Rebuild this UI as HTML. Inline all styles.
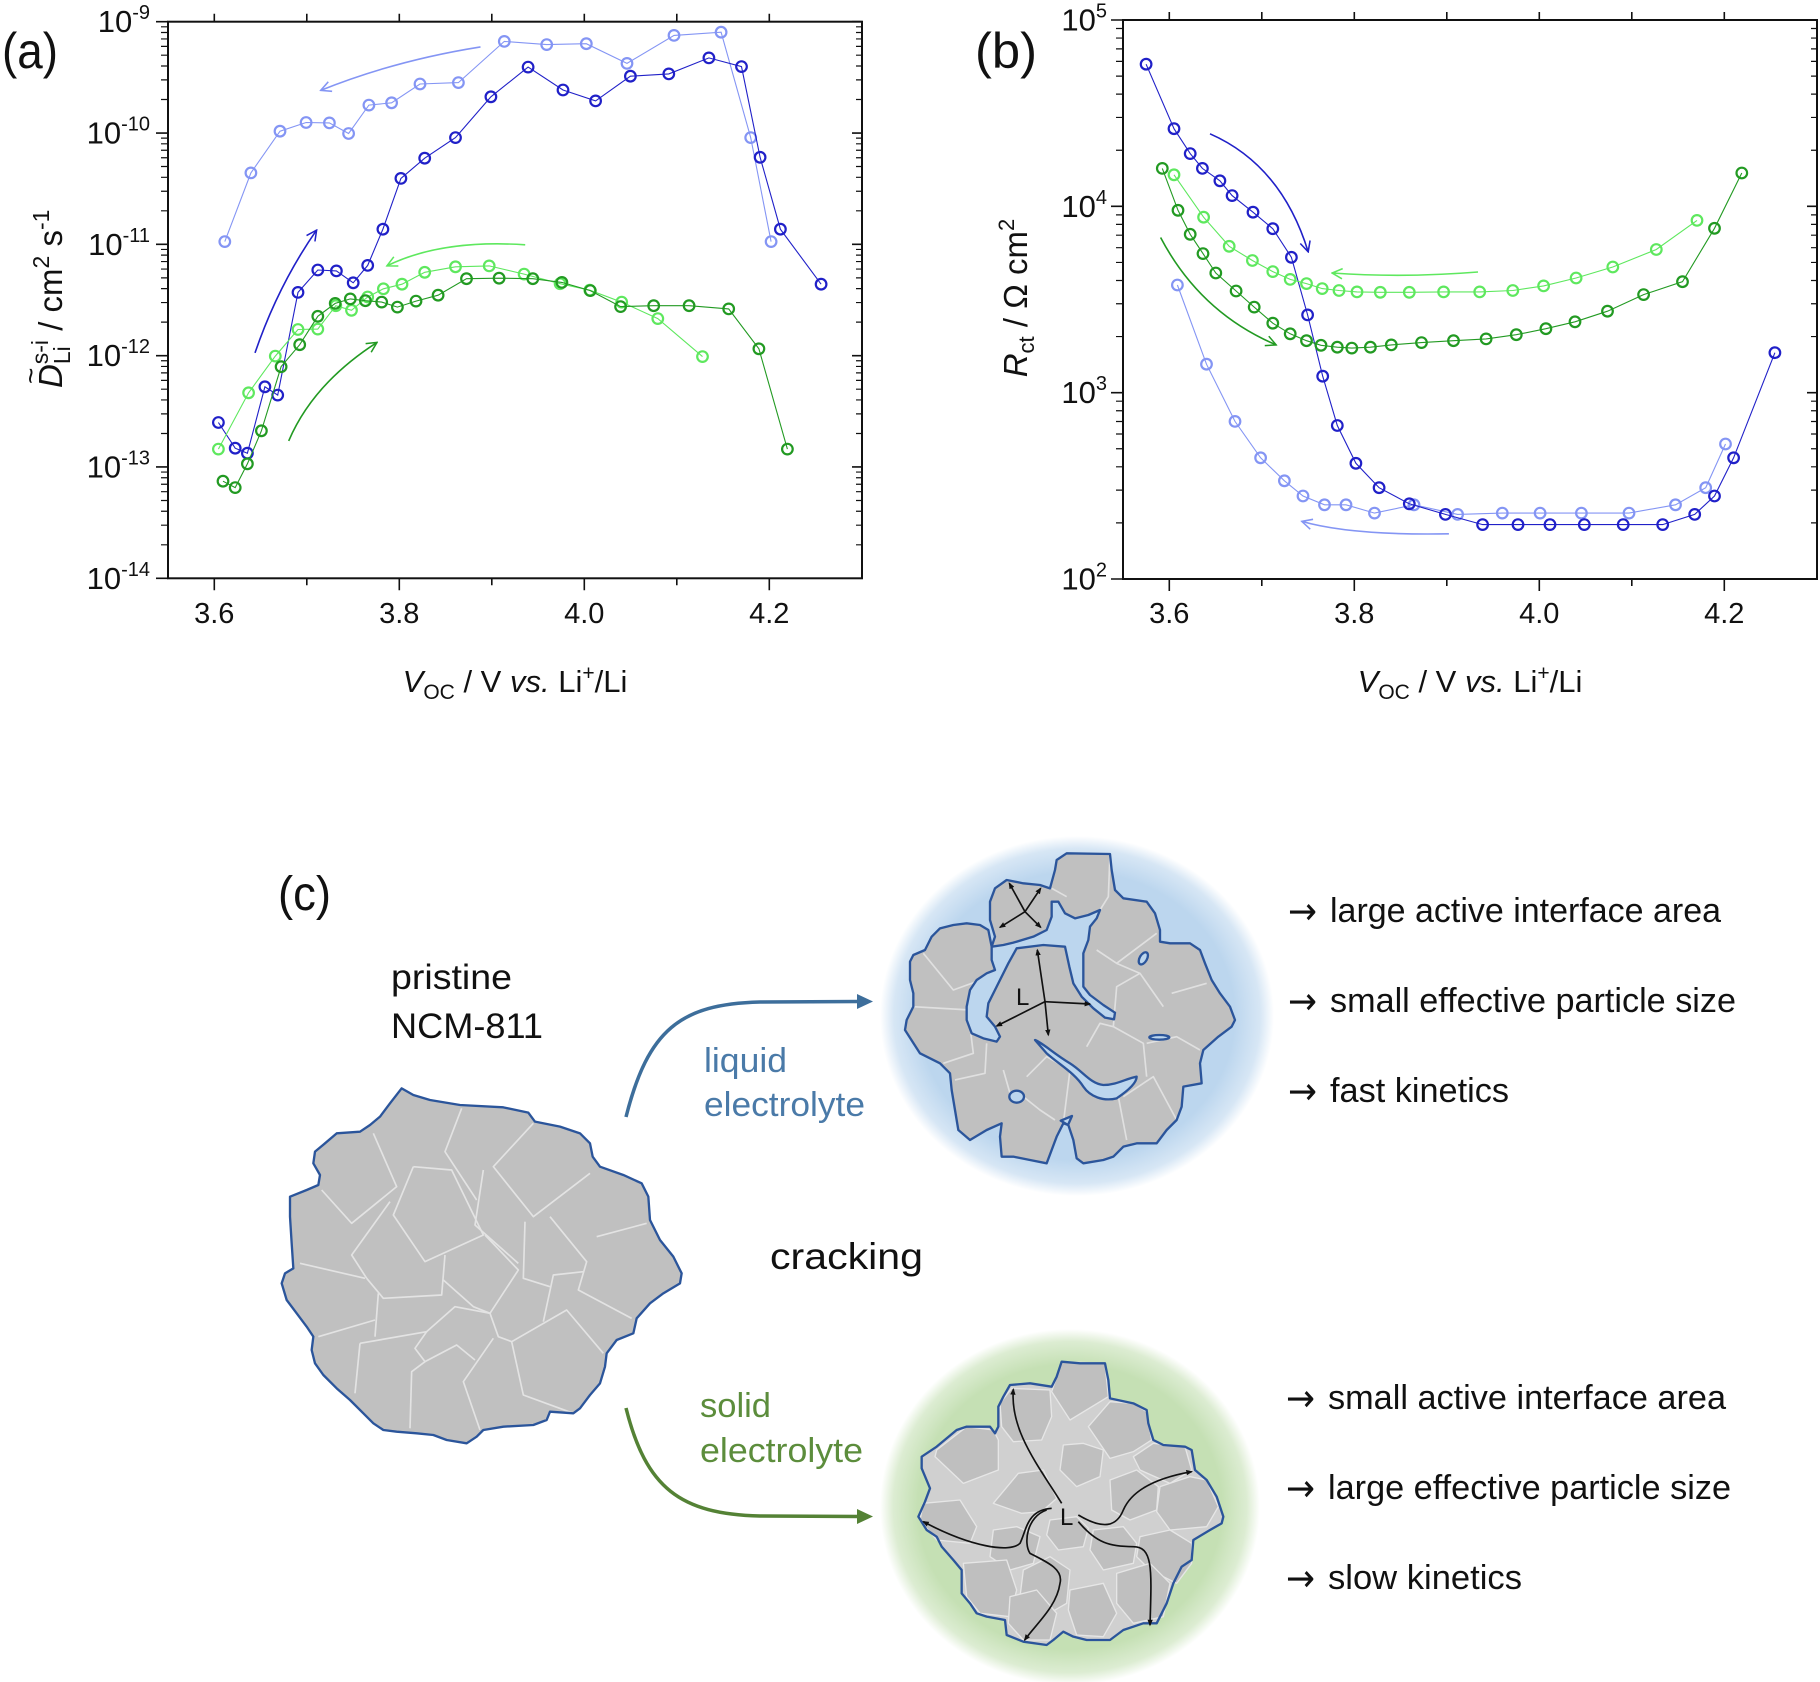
<!DOCTYPE html>
<html><head><meta charset="utf-8"><style>
html,body{margin:0;padding:0;background:#fff;}
svg{display:block;}
text{font-family:"Liberation Sans",Arial,sans-serif;}
</style></head><body>
<svg width="1820" height="1682" viewBox="0 0 1820 1682" xmlns="http://www.w3.org/2000/svg">
<defs>
<marker id="mdb" markerWidth="16" markerHeight="16" refX="8" refY="8" markerUnits="userSpaceOnUse"><circle cx="8" cy="8" r="5.3" fill="none" stroke="#2020c8" stroke-width="2.2"/></marker>
<marker id="mlb" markerWidth="16" markerHeight="16" refX="8" refY="8" markerUnits="userSpaceOnUse"><circle cx="8" cy="8" r="5.3" fill="none" stroke="#8495f4" stroke-width="2.2"/></marker>
<marker id="mlg" markerWidth="16" markerHeight="16" refX="8" refY="8" markerUnits="userSpaceOnUse"><circle cx="8" cy="8" r="5.3" fill="none" stroke="#5ee85e" stroke-width="2.2"/></marker>
<marker id="mdg" markerWidth="16" markerHeight="16" refX="8" refY="8" markerUnits="userSpaceOnUse"><circle cx="8" cy="8" r="5.3" fill="none" stroke="#229a22" stroke-width="2.2"/></marker>
<marker id="adb" viewBox="0 0 10 10" refX="9" refY="5" markerWidth="8" markerHeight="8" orient="auto"><path d="M1,1 L9,5 L1,9" fill="none" stroke="#2020c8" stroke-width="1.2"/></marker>
<marker id="alb" viewBox="0 0 10 10" refX="9" refY="5" markerWidth="8" markerHeight="8" orient="auto"><path d="M1,1 L9,5 L1,9" fill="none" stroke="#8495f4" stroke-width="1.2"/></marker>
<marker id="alg" viewBox="0 0 10 10" refX="9" refY="5" markerWidth="8" markerHeight="8" orient="auto"><path d="M1,1 L9,5 L1,9" fill="none" stroke="#5ee85e" stroke-width="1.2"/></marker>
<marker id="adg" viewBox="0 0 10 10" refX="9" refY="5" markerWidth="8" markerHeight="8" orient="auto"><path d="M1,1 L9,5 L1,9" fill="none" stroke="#229a22" stroke-width="1.2"/></marker>
<marker id="ablk" viewBox="0 0 10 10" refX="8" refY="5" markerWidth="4" markerHeight="4" orient="auto"><path d="M0,1 L10,5 L0,9 Z" fill="#111"/></marker>
<radialGradient id="gblue" cx="50%" cy="50%" r="50%"><stop offset="0.8" stop-color="#bcd6ee"/><stop offset="0.93" stop-color="#bcd6ee" stop-opacity="0.6"/><stop offset="1" stop-color="#bcd6ee" stop-opacity="0"/></radialGradient>
<radialGradient id="ggreen" cx="50%" cy="50%" r="50%"><stop offset="0.8" stop-color="#c5e0b4"/><stop offset="0.93" stop-color="#c5e0b4" stop-opacity="0.6"/><stop offset="1" stop-color="#c5e0b4" stop-opacity="0"/></radialGradient>
</defs>
<rect width="1820" height="1682" fill="#fff"/>

<!-- ================= PANEL (a) ================= -->
<text x="2" y="68" font-size="50" fill="#111" textLength="56" lengthAdjust="spacingAndGlyphs">(a)</text>
<g stroke="#111" fill="none">
<rect x="168" y="21.7" width="694" height="556.6" stroke-width="2"/>
<path stroke-width="1.6" d="M168,21.7h-12 M168,133.02h-12 M168,244.34h-12 M168,355.66h-12 M168,466.98h-12 M168,578.3h-12
M862,21.7h-10 M862,133.02h-10 M862,244.34h-10 M862,355.66h-10 M862,466.98h-10"/>
<path stroke-width="1.2" d="M168,99.51h-7M168,79.91h-7M168,66h-7M168,55.21h-7M168,46.4h-7M168,38.94h-7M168,32.49h-7M168,26.79h-7
M168,210.83h-7M168,191.23h-7M168,177.32h-7M168,166.53h-7M168,157.72h-7M168,150.26h-7M168,143.81h-7M168,138.11h-7
M168,322.15h-7M168,302.55h-7M168,288.64h-7M168,277.85h-7M168,269.04h-7M168,261.58h-7M168,255.13h-7M168,249.43h-7
M168,433.47h-7M168,413.87h-7M168,399.96h-7M168,389.17h-7M168,380.36h-7M168,372.9h-7M168,366.45h-7M168,360.75h-7
M168,544.79h-7M168,525.19h-7M168,511.28h-7M168,500.49h-7M168,491.68h-7M168,484.22h-7M168,477.77h-7M168,472.07h-7
M862,99.51h-6M862,79.91h-6M862,66h-6M862,55.21h-6M862,46.4h-6M862,38.94h-6M862,32.49h-6M862,26.79h-6
M862,210.83h-6M862,191.23h-6M862,177.32h-6M862,166.53h-6M862,157.72h-6M862,150.26h-6M862,143.81h-6M862,138.11h-6
M862,322.15h-6M862,302.55h-6M862,288.64h-6M862,277.85h-6M862,269.04h-6M862,261.58h-6M862,255.13h-6M862,249.43h-6
M862,433.47h-6M862,413.87h-6M862,399.96h-6M862,389.17h-6M862,380.36h-6M862,372.9h-6M862,366.45h-6M862,360.75h-6
M862,544.79h-6M862,525.19h-6M862,511.28h-6M862,500.49h-6M862,491.68h-6M862,484.22h-6M862,477.77h-6M862,472.07h-6"/>
<path stroke-width="1.6" d="M214.3,578.3v12M399.3,578.3v12M584.3,578.3v12M769.3,578.3v12
M306.8,578.3v7M491.8,578.3v7M676.8,578.3v7
M214.3,21.7v-8M306.8,21.7v-8M399.3,21.7v-8M491.8,21.7v-8M584.3,21.7v-8M676.8,21.7v-8M769.3,21.7v-8"/>
</g>
<g font-size="31" fill="#111" text-anchor="end">
<text x="150" y="32.2">10<tspan font-size="20" dy="-13">-9</tspan></text>
<text x="150" y="143.5">10<tspan font-size="20" dy="-13">-10</tspan></text>
<text x="150" y="254.8">10<tspan font-size="20" dy="-13">-11</tspan></text>
<text x="150" y="366.2">10<tspan font-size="20" dy="-13">-12</tspan></text>
<text x="150" y="477.5">10<tspan font-size="20" dy="-13">-13</tspan></text>
<text x="150" y="588.8">10<tspan font-size="20" dy="-13">-14</tspan></text>
</g>
<g font-size="29" fill="#111" text-anchor="middle">
<text x="214.3" y="623">3.6</text><text x="399.3" y="623">3.8</text><text x="584.3" y="623">4.0</text><text x="769.3" y="623">4.2</text>
</g>
<text x="515" y="692" font-size="31" fill="#111" text-anchor="middle"><tspan font-style="italic">V</tspan><tspan font-size="21" dy="7">OC</tspan><tspan dy="-7"> / V </tspan><tspan font-style="italic">vs.</tspan><tspan> Li</tspan><tspan font-size="21" dy="-12">+</tspan><tspan dy="12">/Li</tspan></text>
<g transform="translate(62,300) rotate(-90)" fill="#111">
<text x="-88" y="0" font-size="33"><tspan font-style="italic">D</tspan><tspan font-size="23" dy="8">Li</tspan><tspan font-size="23" dx="-18" dy="-22">s-i</tspan><tspan dy="14"> / cm</tspan><tspan font-size="23" dy="-13">2</tspan><tspan dy="13"> s</tspan><tspan font-size="23" dy="-13">-1</tspan></text>
<text x="-84" y="-22" font-size="28">~</text>
</g>
<!-- data (a) -->
<g fill="none" stroke-width="1.1">
<polyline stroke="#8495f4" marker-start="url(#mlb)" marker-mid="url(#mlb)" marker-end="url(#mlb)" points="771.1,241.6 750.7,137.6 721.1,32.2 674.0,35.4 627.0,63.4 586.3,43.7 546.7,44.6 504.3,41.4 458.4,82.6 420.0,84.0 391.6,102.8 368.9,105.1 348.6,133.5 329.4,122.9 306.1,122.5 280.0,131.2 250.9,172.9 224.8,241.6"/>
<polyline stroke="#2020c8" marker-start="url(#mdb)" marker-mid="url(#mdb)" marker-end="url(#mdb)" points="218.4,422.5 235.2,448.2 247.4,453.2 264.9,386.8 277.7,395.1 298.0,292.4 317.8,270.0 336.4,270.9 353.2,282.8 367.7,265.4 382.9,229.2 400.9,178.4 424.7,158.2 455.5,137.6 490.9,96.8 528.1,67.1 563.0,90.0 595.6,100.9 630.4,76.2 668.8,73.9 708.9,57.9 741.5,66.6 760.1,157.3 780.4,229.2 821.1,284.2"/>
<polyline stroke="#5ee85e" marker-start="url(#mlg)" marker-mid="url(#mlg)" marker-end="url(#mlg)" points="702.5,356.6 657.8,318.6 621.7,302.1 589.8,290.2 560.1,283.7 524.1,274.1 489.2,265.9 455.5,266.8 424.7,272.3 402.0,284.2 383.4,288.8 367.7,297.0 351.5,310.3 335.8,305.7 317.8,329.1 298.0,329.5 275.3,356.1 248.6,392.8 218.4,449.1"/>
<polyline stroke="#229a22" marker-start="url(#mdg)" marker-mid="url(#mdg)" marker-end="url(#mdg)" points="223.0,481.2 235.2,487.6 247.4,463.8 261.4,430.8 281.1,366.7 299.7,344.7 317.8,316.3 335.2,303.4 350.3,298.9 365.4,300.7 381.7,302.1 397.4,307.1 416.0,301.1 438.1,295.2 466.5,278.7 499.1,278.2 532.8,278.7 561.9,282.4 590.3,290.6 620.6,306.6 653.7,305.7 689.1,305.7 728.7,308.9 758.9,348.8 787.4,449.1"/>
</g>
<g fill="none" stroke-width="1.6">
<path stroke="#8495f4" marker-end="url(#alb)" d="M480.5,46.9 Q394.5,60.6 320.7,90.4"/>
<path stroke="#2020c8" marker-end="url(#adb)" d="M255,352.9 Q278.2,285.1 316.6,230.1"/>
<path stroke="#5ee85e" marker-end="url(#alg)" d="M525.2,244.8 Q441,239.3 386.9,265.9"/>
<path stroke="#229a22" marker-end="url(#adg)" d="M288.7,440.9 Q313.1,383.6 377,342.4"/>
</g>

<!-- ================= PANEL (b) ================= -->
<text x="975" y="68" font-size="50" fill="#111" textLength="62" lengthAdjust="spacingAndGlyphs">(b)</text>
<g stroke="#111" fill="none">
<rect x="1123" y="20" width="694" height="559" stroke-width="2"/>
<path stroke-width="1.6" d="M1123,20h-12M1123,206.33h-12M1123,392.67h-12M1123,579h-12
M1817,206.33h-10M1817,392.67h-10"/>
<path stroke-width="1.2" d="M1123,150.24h-7M1123,117.43h-7M1123,94.15h-7M1123,76.09h-7M1123,61.34h-7M1123,48.86h-7M1123,38.06h-7M1123,28.53h-7
M1123,336.57h-7M1123,303.76h-7M1123,280.48h-7M1123,262.42h-7M1123,247.67h-7M1123,235.19h-7M1123,224.39h-7M1123,214.86h-7
M1123,522.91h-7M1123,490.1h-7M1123,466.82h-7M1123,448.76h-7M1123,434.01h-7M1123,421.53h-7M1123,410.73h-7M1123,401.2h-7
M1817,150.24h-6M1817,117.43h-6M1817,94.15h-6M1817,76.09h-6M1817,61.34h-6M1817,48.86h-6M1817,38.06h-6M1817,28.53h-6
M1817,336.57h-6M1817,303.76h-6M1817,280.48h-6M1817,262.42h-6M1817,247.67h-6M1817,235.19h-6M1817,224.39h-6M1817,214.86h-6
M1817,522.91h-6M1817,490.1h-6M1817,466.82h-6M1817,448.76h-6M1817,434.01h-6M1817,421.53h-6M1817,410.73h-6M1817,401.2h-6"/>
<path stroke-width="1.6" d="M1169.3,579v12M1354.3,579v12M1539.3,579v12M1724.3,579v12
M1261.8,579v7M1446.8,579v7M1631.8,579v7
M1169.3,20v-8M1261.8,20v-8M1354.3,20v-8M1446.8,20v-8M1539.3,20v-8M1631.8,20v-8M1724.3,20v-8"/>
</g>
<g font-size="31" fill="#111" text-anchor="end">
<text x="1107" y="30.5">10<tspan font-size="20" dy="-13">5</tspan></text>
<text x="1107" y="216.8">10<tspan font-size="20" dy="-13">4</tspan></text>
<text x="1107" y="403.2">10<tspan font-size="20" dy="-13">3</tspan></text>
<text x="1107" y="589.5">10<tspan font-size="20" dy="-13">2</tspan></text>
</g>
<g font-size="29" fill="#111" text-anchor="middle">
<text x="1169.3" y="623">3.6</text><text x="1354.3" y="623">3.8</text><text x="1539.3" y="623">4.0</text><text x="1724.3" y="623">4.2</text>
</g>
<text x="1470" y="692" font-size="31" fill="#111" text-anchor="middle"><tspan font-style="italic">V</tspan><tspan font-size="21" dy="7">OC</tspan><tspan dy="-7"> / V </tspan><tspan font-style="italic">vs.</tspan><tspan> Li</tspan><tspan font-size="21" dy="-12">+</tspan><tspan dy="12">/Li</tspan></text>
<g transform="translate(1027,298) rotate(-90)" fill="#111">
<text x="0" y="0" font-size="33" text-anchor="middle"><tspan font-style="italic">R</tspan><tspan font-size="22" dy="7">ct</tspan><tspan dy="-7"> / Ω cm</tspan><tspan font-size="22" dy="-13">2</tspan></text>
</g>
<!-- data (b) -->
<g fill="none" stroke-width="1.1">
<polyline stroke="#8495f4" marker-start="url(#mlb)" marker-mid="url(#mlb)" marker-end="url(#mlb)" points="1725.5,444.0 1705.7,487.7 1675.5,504.8 1629.0,513.1 1581.4,513.1 1540.1,513.1 1502.3,513.1 1457.6,514.4 1414.0,504.8 1374.5,513.1 1346.0,504.8 1324.5,504.8 1303.0,496.0 1284.4,480.8 1260.6,457.8 1235.0,421.4 1206.5,364.2 1177.4,285.0"/>
<polyline stroke="#2020c8" marker-start="url(#mdb)" marker-mid="url(#mdb)" marker-end="url(#mdb)" points="1146.1,64.2 1174.0,128.7 1190.2,153.6 1202.4,168.4 1219.9,180.8 1232.1,195.6 1253.0,212.2 1272.8,228.7 1291.4,257.3 1307.6,314.9 1322.7,376.2 1337.3,425.5 1355.9,463.3 1379.1,487.7 1409.3,503.8 1445.4,514.4 1482.6,524.6 1518.0,524.6 1550.0,524.6 1584.3,524.6 1623.2,524.6 1662.7,524.6 1694.7,514.4 1714.5,496.0 1733.6,457.8 1774.9,352.7"/>
<polyline stroke="#5ee85e" marker-start="url(#mlg)" marker-mid="url(#mlg)" marker-end="url(#mlg)" points="1697.0,220.4 1656.3,249.5 1612.8,267.0 1576.1,278.0 1543.6,285.9 1512.8,290.5 1479.7,291.9 1443.6,291.9 1409.3,292.3 1380.3,292.3 1357.0,291.9 1339.0,290.5 1322.2,288.6 1306.5,283.6 1290.2,279.4 1272.8,271.6 1252.4,260.5 1229.2,246.3 1203.6,217.2 1174.0,174.8"/>
<polyline stroke="#229a22" marker-start="url(#mdg)" marker-mid="url(#mdg)" marker-end="url(#mdg)" points="1162.3,168.4 1178.0,210.3 1190.2,234.3 1203.0,253.6 1215.8,273.0 1236.1,291.0 1254.2,307.1 1272.8,323.2 1290.2,333.8 1306.5,340.7 1321.0,345.3 1337.3,347.2 1351.8,348.1 1370.4,347.2 1391.3,344.9 1421.5,342.6 1453.5,340.7 1486.1,338.9 1516.3,334.7 1545.9,328.7 1575.0,321.8 1607.5,311.2 1643.6,294.6 1682.5,281.7 1714.5,228.3 1741.8,173.0"/>
</g>
<g fill="none" stroke-width="1.6">
<path stroke="#2020c8" marker-end="url(#adb)" d="M1210,133.8 Q1281.5,165.2 1308.2,251.8"/>
<path stroke="#229a22" marker-end="url(#adg)" d="M1160.6,237.5 Q1200.1,312.6 1276.2,344.9"/>
<path stroke="#5ee85e" marker-end="url(#alg)" d="M1478,272 Q1403.5,278 1332.1,273"/>
<path stroke="#8495f4" marker-end="url(#alb)" d="M1448.9,533.8 Q1351.2,535.6 1301.8,521.4"/>
</g>

<!-- ================= PANEL (c) ================= -->
<text x="278" y="910" font-size="48" fill="#111" textLength="53" lengthAdjust="spacingAndGlyphs">(c)</text>
<text x="391" y="989" font-size="35" fill="#111" textLength="121" lengthAdjust="spacingAndGlyphs">pristine</text>
<text x="391" y="1038" font-size="35" fill="#111" textLength="152" lengthAdjust="spacingAndGlyphs">NCM-811</text>
<text x="770" y="1269" font-size="37" fill="#111" textLength="153" lengthAdjust="spacingAndGlyphs">cracking</text>
<text x="704" y="1072" font-size="34" fill="#4a7aa8" textLength="83" lengthAdjust="spacingAndGlyphs">liquid</text>
<text x="704" y="1116" font-size="34" fill="#4a7aa8" textLength="161" lengthAdjust="spacingAndGlyphs">electrolyte</text>
<text x="700" y="1417" font-size="34" fill="#5c8d3c" textLength="71" lengthAdjust="spacingAndGlyphs">solid</text>
<text x="700" y="1462" font-size="34" fill="#5c8d3c" textLength="163" lengthAdjust="spacingAndGlyphs">electrolyte</text>

<g font-size="34" fill="#111">
<text x="1288" y="924" style="font-family:'DejaVu Sans',sans-serif;font-size:38px" textLength="29" lengthAdjust="spacingAndGlyphs">→</text>
<text x="1330" y="922" textLength="391" lengthAdjust="spacingAndGlyphs">large active interface area</text>
<text x="1288" y="1014" style="font-family:'DejaVu Sans',sans-serif;font-size:38px" textLength="29" lengthAdjust="spacingAndGlyphs">→</text>
<text x="1330" y="1012" textLength="406" lengthAdjust="spacingAndGlyphs">small effective particle size</text>
<text x="1288" y="1104" style="font-family:'DejaVu Sans',sans-serif;font-size:38px" textLength="29" lengthAdjust="spacingAndGlyphs">→</text>
<text x="1330" y="1102" textLength="179" lengthAdjust="spacingAndGlyphs">fast kinetics</text>
<text x="1286" y="1411" style="font-family:'DejaVu Sans',sans-serif;font-size:38px" textLength="29" lengthAdjust="spacingAndGlyphs">→</text>
<text x="1328" y="1409" textLength="398" lengthAdjust="spacingAndGlyphs">small active interface area</text>
<text x="1286" y="1501" style="font-family:'DejaVu Sans',sans-serif;font-size:38px" textLength="29" lengthAdjust="spacingAndGlyphs">→</text>
<text x="1328" y="1499" textLength="403" lengthAdjust="spacingAndGlyphs">large effective particle size</text>
<text x="1286" y="1591" style="font-family:'DejaVu Sans',sans-serif;font-size:38px" textLength="29" lengthAdjust="spacingAndGlyphs">→</text>
<text x="1328" y="1589" textLength="194" lengthAdjust="spacingAndGlyphs">slow kinetics</text>
</g>

<!-- arrows -->
<path d="M626,1117 C648,1030 680,1004 760,1002 L860,1001.5" fill="none" stroke="#3d6e9b" stroke-width="3.5"/>
<path d="M873,1001.5 L857,994 L857,1009 Z" fill="#3d6e9b"/>
<path d="M626,1408 C646,1488 680,1514 760,1516 L860,1516.5" fill="none" stroke="#548235" stroke-width="3.5"/>
<path d="M873,1516.5 L857,1509 L857,1524 Z" fill="#548235"/>

<!-- pristine particle -->
<g transform="translate(270,1070) scale(0.33333)">
<path d="M395,55 L430,75 480,90 570,105 700,112 775,128 795,155 870,170 930,190 960,220 968,260 990,290 1060,315 1115,340 1135,380 1140,450 1170,510 1210,560 1235,610 1230,640 1180,670 1140,700 1100,745 1090,790 1040,810 1010,850 1005,890 990,940 960,975 930,1015 910,1030 840,1025 830,1050 790,1065 700,1070 640,1080 620,1100 590,1120 530,1110 490,1095 440,1090 380,1085 340,1080 310,1060 280,1030 240,990 200,955 160,915 135,880 125,840 130,800 110,770 80,730 50,690 35,640 45,610 70,595 65,520 60,440 60,380 110,360 145,345 150,315 130,280 135,245 165,220 200,190 270,185 300,165 330,140 360,100 Z" fill="#c0c0c0" stroke="none"/>
<g fill="none" stroke="#e3e3e3" stroke-width="5" stroke-linejoin="round">
<polyline points="310,190 380,350 245,460 155,360"/>
<polyline points="575,115 525,245 620,390"/>
<polyline points="790,160 670,290 790,440 960,310"/>
<polyline points="430,290 545,300 640,495 465,575 370,435 430,290"/>
<polyline points="360,395 245,555 290,625"/>
<polyline points="640,300 615,465 745,580"/>
<polyline points="765,455 760,625 840,650"/>
<polyline points="840,440 950,575 925,660 1085,745"/>
<polyline points="980,500 1130,460"/>
<polyline points="940,605 850,615 820,755"/>
<polyline points="525,555 515,675 340,685 290,625"/>
<polyline points="645,495 745,600 660,730 610,710 520,630"/>
<polyline points="90,580 285,625"/>
<polyline points="325,670 315,800"/>
<polyline points="145,800 315,750"/>
<polyline points="270,820 470,785 555,710 660,730 685,800 725,815 890,720 1000,850"/>
<polyline points="270,820 255,970"/>
<polyline points="470,785 435,835 465,875 425,905 420,1075"/>
<polyline points="465,875 560,825 615,870"/>
<polyline points="670,805 580,935 630,1080"/>
<polyline points="725,815 760,975 910,1030"/>
</g>
<path d="M395,55 L430,75 480,90 570,105 700,112 775,128 795,155 870,170 930,190 960,220 968,260 990,290 1060,315 1115,340 1135,380 1140,450 1170,510 1210,560 1235,610 1230,640 1180,670 1140,700 1100,745 1090,790 1040,810 1010,850 1005,890 990,940 960,975 930,1015 910,1030 840,1025 830,1050 790,1065 700,1070 640,1080 620,1100 590,1120 530,1110 490,1095 440,1090 380,1085 340,1080 310,1060 280,1030 240,990 200,955 160,915 135,880 125,840 130,800 110,770 80,730 50,690 35,640 45,610 70,595 65,520 60,440 60,380 110,360 145,345 150,315 130,280 135,245 165,220 200,190 270,185 300,165 330,140 360,100 Z" fill="none" stroke="#2b559b" stroke-width="7" stroke-linejoin="round"/>
</g>

<!-- blue glow + cracked particle -->
<ellipse cx="1077" cy="1016" rx="197" ry="180" fill="url(#gblue)"/>
<g transform="translate(870,830) scale(0.33333)">
<path d="M360,215 L375,175 410,150 460,160 510,165 540,175 555,120 560,90 590,70 720,72 725,120 735,180 760,205 830,215 855,250 870,300 870,335 900,340 960,340 990,360 1005,400 1025,450 1050,490 1080,530 1095,570 1085,590 1045,620 1000,660 990,700 995,760 940,770 935,830 920,870 890,900 860,940 800,940 760,950 730,980 700,990 640,1000 620,985 610,930 595,885 580,880 560,920 530,1000 480,990 430,980 395,980 390,920 395,880 350,900 300,930 265,900 255,840 245,780 240,730 210,700 150,670 105,600 110,570 130,530 130,490 120,450 120,395 130,375 165,360 185,320 210,295 250,285 290,280 330,285 355,300 365,350 375,320 360,270 Z" fill="#c0c0c0" stroke="none"/>
<g fill="none" stroke="#e0e0e0" stroke-width="5" stroke-linejoin="round">
<polyline points="720,72 715,200 690,240"/>
<polyline points="160,370 250,480 360,440"/>
<polyline points="130,530 300,540"/>
<polyline points="220,700 310,670 300,590"/>
<polyline points="350,640 345,730 255,750"/>
<polyline points="400,720 420,790"/>
<polyline points="470,740 530,680 600,720 580,880"/>
<polyline points="650,650 690,580 730,590 820,640 830,740"/>
<polyline points="905,490 1010,460"/>
<polyline points="880,530 810,430 740,470 730,590"/>
<polyline points="990,660 920,620 830,640"/>
<polyline points="760,800 850,740 920,870"/>
<polyline points="680,360 740,400 810,430"/>
<polyline points="740,400 860,310"/>
<polyline points="460,800 510,840 555,870"/>
<polyline points="745,800 770,930"/>
<polyline points="545,175 590,200"/>
</g>
<path d="M360,215 L375,175 410,150 460,160 510,165 540,175 555,120 560,90 590,70 720,72 725,120 735,180 760,205 830,215 855,250 870,300 870,335 900,340 960,340 990,360 1005,400 1025,450 1050,490 1080,530 1095,570 1085,590 1045,620 1000,660 990,700 995,760 940,770 935,830 920,870 890,900 860,940 800,940 760,950 730,980 700,990 640,1000 620,985 610,930 595,885 580,880 560,920 530,1000 480,990 430,980 395,980 390,920 395,880 350,900 300,930 265,900 255,840 245,780 240,730 210,700 150,670 105,600 110,570 130,530 130,490 120,450 120,395 130,375 165,360 185,320 210,295 250,285 290,280 330,285 355,300 365,350 375,320 360,270 Z" fill="none" stroke="#2b559b" stroke-width="7" stroke-linejoin="round"/>
<g fill="#bcd6ee" stroke="#2b559b" stroke-width="7" stroke-linejoin="round">
<path d="M545,215 L565,215 585,250 615,265 655,255 690,240 680,265 660,290 655,330 640,370 640,420 640,470 660,495 700,525 735,548 732,568 705,563 670,535 635,500 610,460 598,410 585,350 520,345 440,355 415,400 380,470 355,520 350,560 375,590 390,620 380,635 340,625 305,610 290,570 290,530 300,480 320,450 350,430 375,420 365,390 365,350 400,345 430,338 490,320 530,300 545,260 Z"/>
<path d="M495,630 C520,640 550,670 600,700 C640,725 660,760 700,765 C740,765 770,745 800,740 C800,760 770,785 740,805 C700,815 660,800 640,770 C615,730 570,705 530,670 Z"/>
<ellipse cx="440" cy="800" rx="22" ry="18"/>
<path d="M572,872 L606,858 L594,885 Z"/>
<ellipse cx="820" cy="385" rx="11" ry="20" transform="rotate(30 820 385)"/>
<ellipse cx="868" cy="622" rx="30" ry="7"/>
</g>
<g stroke="#111" stroke-width="5" fill="none" marker-end="url(#ablk)">
<path d="M465,245 L418,160"/><path d="M465,245 L512,175"/><path d="M465,245 L390,292"/><path d="M465,245 L512,292"/>
<path d="M525,515 L502,360"/><path d="M525,515 L660,522"/><path d="M525,515 L380,588"/><path d="M525,515 L535,615"/>
</g>
<text x="438" y="525" font-size="72" fill="#111">L</text>
</g>

<!-- green glow + particle -->
<ellipse cx="1070" cy="1507" rx="190" ry="178" fill="url(#ggreen)"/>
<g transform="translate(870,1330) scale(0.33333)">
<path d="M420,165 L480,160 545,170 560,140 575,95 630,100 705,100 715,150 720,205 790,220 830,240 835,280 850,330 880,345 945,350 965,360 975,420 1010,450 1040,500 1060,560 1055,580 1020,600 970,630 965,690 935,710 910,760 890,820 860,880 820,880 760,900 720,930 650,930 610,920 580,905 550,930 530,945 460,935 410,915 405,870 350,860 320,850 300,820 275,790 275,720 250,690 215,650 200,620 170,600 145,560 165,515 180,475 155,415 155,380 200,350 260,300 290,290 360,290 375,310 385,290 385,230 400,200 Z" fill="#d0d0d0" stroke="none"/>
<g fill="#bfbfbf" stroke="#e6e6e6" stroke-width="4" stroke-linejoin="round">
<polygon points="575,95 705,100 715,200 600,270 545,185"/>
<polygon points="425,175 540,180 545,260 515,330 430,335 395,290 390,220"/>
<polygon points="655,290 720,215 790,220 830,245 845,330 790,365 720,385"/>
<polygon points="790,380 850,340 945,350 965,420 900,460 810,420"/>
<polygon points="200,360 290,290 370,300 385,330 385,420 280,460 195,380"/>
<polygon points="445,430 520,420 560,505 515,545 455,550 370,520"/>
<polygon points="580,345 640,340 700,360 690,440 620,470 570,420"/>
<polygon points="720,450 800,420 865,470 860,540 780,570 725,540"/>
<polygon points="870,470 960,440 1010,450 1045,530 1010,590 900,600 860,545"/>
<polygon points="160,520 270,510 320,590 300,640 200,630 150,570"/>
<polygon points="370,600 440,590 510,620 490,700 420,720 360,680"/>
<polygon points="540,570 620,560 655,595 640,650 565,660 530,615"/>
<polygon points="670,600 760,590 800,640 790,700 700,720 660,660"/>
<polygon points="810,620 900,600 965,640 965,700 920,760 840,720 800,680"/>
<polygon points="280,700 410,690 440,780 420,860 330,850 290,800"/>
<polygon points="460,720 540,680 600,720 590,820 520,860 450,800"/>
<polygon points="600,780 700,760 740,850 700,920 620,915 595,840"/>
<polygon points="740,730 840,700 900,760 880,860 790,880 740,820"/>
<polygon points="420,800 500,780 560,850 540,930 460,930 415,880"/>
</g>
<path d="M420,165 L480,160 545,170 560,140 575,95 630,100 705,100 715,150 720,205 790,220 830,240 835,280 850,330 880,345 945,350 965,360 975,420 1010,450 1040,500 1060,560 1055,580 1020,600 970,630 965,690 935,710 910,760 890,820 860,880 820,880 760,900 720,930 650,930 610,920 580,905 550,930 530,945 460,935 410,915 405,870 350,860 320,850 300,820 275,790 275,720 250,690 215,650 200,620 170,600 145,560 165,515 180,475 155,415 155,380 200,350 260,300 290,290 360,290 375,310 385,290 385,230 400,200 Z" fill="none" stroke="#2b559b" stroke-width="7" stroke-linejoin="round"/>
<g stroke="#111" stroke-width="5" fill="none" marker-end="url(#ablk)">
<path d="M575,520 C500,400 420,300 430,178"/>
<path d="M625,555 C700,600 740,590 760,540 C790,470 880,440 965,425"/>
<path d="M625,575 C680,640 720,650 790,650 C850,650 845,720 840,885"/>
<path d="M545,535 C470,540 470,600 450,640 C420,670 300,650 160,575"/>
<path d="M530,540 C470,560 460,640 480,670 C540,700 580,720 570,760 C560,830 500,880 464,930"/>
</g>
<text x="570" y="585" font-size="72" fill="#111">L</text>
</g>
</svg>
</body></html>
